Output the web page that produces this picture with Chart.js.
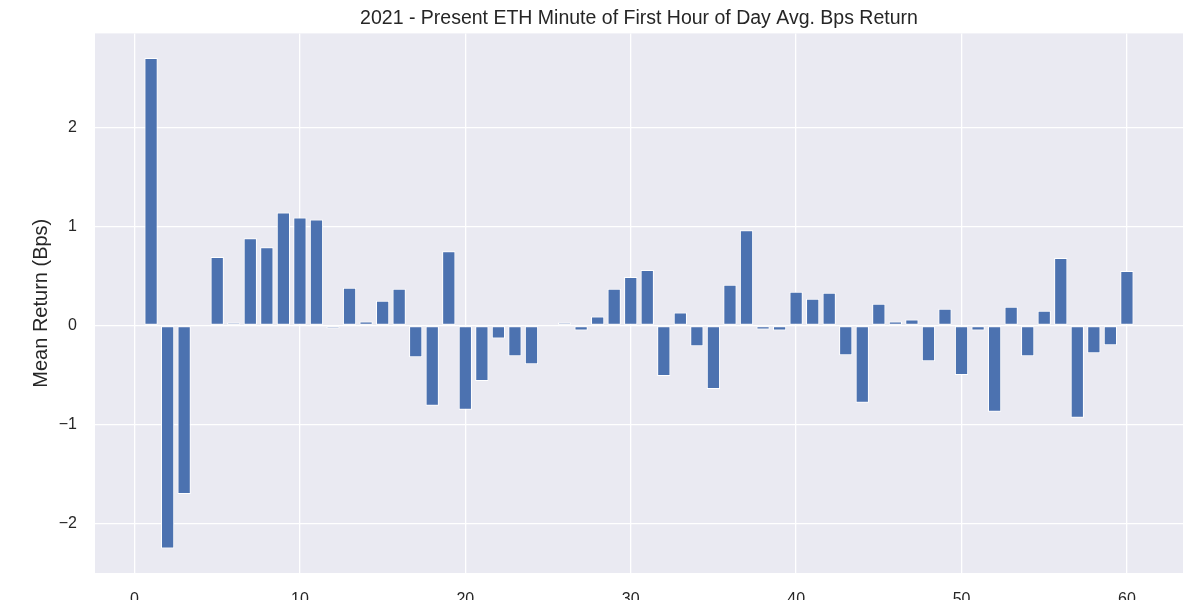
<!DOCTYPE html>
<html>
<head>
<meta charset="utf-8">
<script src="https://cdn.jsdelivr.net/npm/chart.js@4/dist/chart.umd.min.js"></script>
<style>
  html, body { margin: 0; padding: 0; background: #fff; overflow: hidden; }
  #wrap { position: relative; width: 1200px; height: 640px; }
</style>
</head>
<body>
<div id="wrap"><canvas id="chart" width="1200" height="640"></canvas></div>
<script>
/* ── Data ─────────────────────────────────────────────────────────── */
var MINUTES = [];
for (var i = 1; i <= 60; i++) MINUTES.push(i);

var MEAN_RETURN_BPS = [
   2.70, -2.25, -1.70,  0.00,  0.69,  0.03,  0.88,  0.79,  1.14,  1.09,
   1.07, -0.03,  0.38,  0.04,  0.25,  0.37, -0.32, -0.81,  0.75, -0.85,
  -0.56, -0.13, -0.31, -0.39,  0.00,  0.03, -0.05,  0.09,  0.37,  0.49,
   0.56, -0.51,  0.13, -0.21, -0.64,  0.41,  0.96, -0.04, -0.05,  0.34,
   0.27,  0.33, -0.30, -0.78,  0.22,  0.04,  0.06, -0.36,  0.17, -0.50,
  -0.05, -0.87,  0.19, -0.31,  0.15,  0.68, -0.93, -0.28, -0.20,  0.55
];

var X_TICKS = [0, 10, 20, 30, 40, 50, 60];
var Y_TICKS = [-2, -1, 0, 1, 2];

var TITLE = "2021 - Present ETH Minute of First Hour of Day Avg. Bps Return";
var Y_LABEL = "Mean Return (Bps)";

/* ── Helpers ──────────────────────────────────────────────────────── */
var FONT = "'Liberation Sans', Arial, sans-serif";
var TEXT = "#262626";

function minusFmt(v) {
  return v < 0 ? "\u2212" + Math.abs(v) : String(v);
}

// matplotlib-style 5% margins around the data
function padRange(lo, hi) {
  var m = (hi - lo) * 0.05;
  return [lo - m, hi + m];
}

var xr = padRange(MINUTES[0] - 0.4, MINUTES[MINUTES.length - 1] + 0.4);
var yr = padRange(Math.min(0, Math.min.apply(null, MEAN_RETURN_BPS)),
                  Math.max(0, Math.max.apply(null, MEAN_RETURN_BPS)));

/* ── Background plugin ───────────────────────────────────────────── */
var plotBg = {
  id: "plotBg",
  beforeDraw: function (chart) {
    var a = chart.chartArea, ctx = chart.ctx;
    ctx.save();
    ctx.fillStyle = "#eaeaf2";
    ctx.fillRect(a.left, a.top, a.right - a.left, a.bottom - a.top);
    ctx.restore();
  }
};

/* ── Chart ────────────────────────────────────────────────────────── */
Chart.defaults.font.family = FONT;
Chart.defaults.color = TEXT;

new Chart(document.getElementById("chart").getContext("2d"), {
  type: "bar",
  data: {
    datasets: [{
      data: MINUTES.map(function (m, i) { return { x: m, y: MEAN_RETURN_BPS[i] }; }),
      backgroundColor: "#4c72b0",
      borderColor: "#ffffff",
      borderWidth: 1,
      borderSkipped: false,
      categoryPercentage: 1,
      barPercentage: 0.8
    }]
  },
  options: {
    responsive: false,
    animation: false,
    layout: { padding: { left: 0, right: 17, top: 0, bottom: 0 } },
    plugins: {
      legend: { display: false },
      tooltip: { enabled: false },
      title: {
        display: true,
        fullSize: false,
        text: TITLE,
        color: TEXT,
        font: { size: 19.5, weight: "normal" },
        padding: { top: 7, bottom: 3 }
      }
    },
    scales: {
      x: {
        type: "linear",
        offset: false,
        min: xr[0],
        max: xr[1],
        afterBuildTicks: function (s) { s.ticks = X_TICKS.map(function (v) { return { value: v }; }); },
        afterFit: function (s) { s.height = 67; },
        ticks: { font: { size: 16 }, color: TEXT, padding: 17, callback: minusFmt, maxRotation: 0 },
        grid: { color: "#ffffff", lineWidth: 1.3, drawTicks: false, offset: false },
        border: { display: false }
      },
      y: {
        min: yr[0],
        max: yr[1],
        afterBuildTicks: function (s) { s.ticks = Y_TICKS.map(function (v) { return { value: v }; }); },
        afterFit: function (s) { s.width = 95; },
        ticks: { font: { size: 16 }, color: TEXT, padding: 18, callback: minusFmt },
        grid: { color: "#ffffff", lineWidth: 1.3, drawTicks: false },
        border: { display: false },
        title: {
          display: true,
          text: Y_LABEL,
          color: TEXT,
          font: { size: 20 },
          padding: { top: 29, bottom: 0 }
        }
      }
    }
  },
  plugins: [plotBg]
});
</script>
</body>
</html>
